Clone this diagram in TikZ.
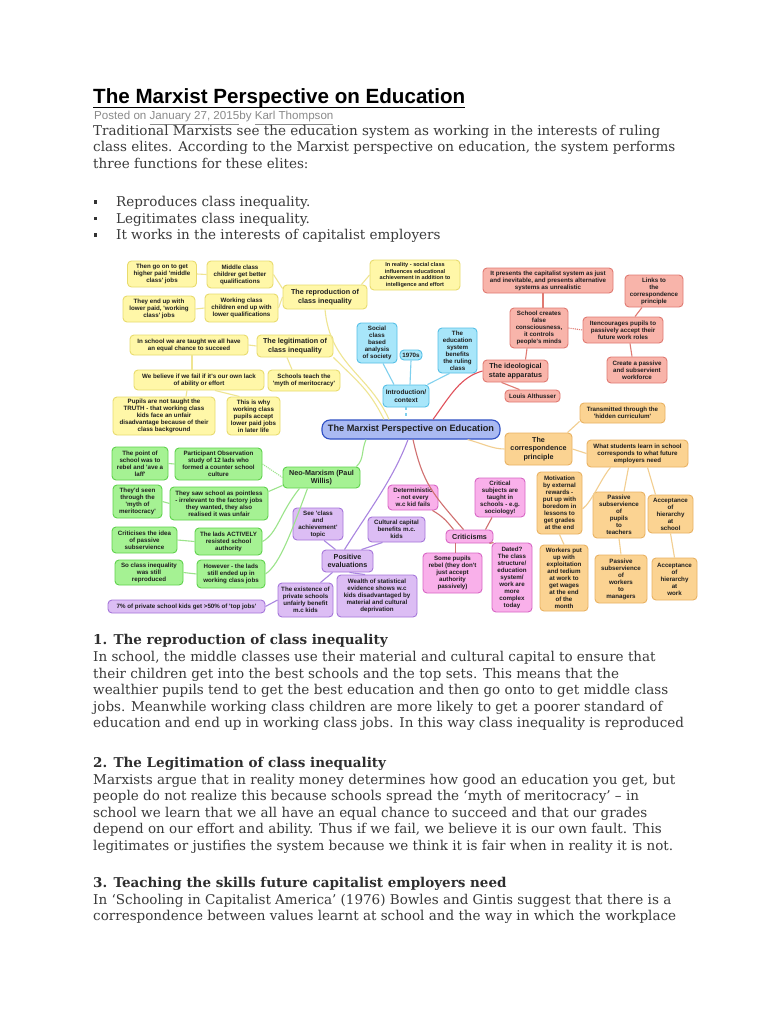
\documentclass[tikz,border=0pt]{standalone}
\usepackage{fontspec}
\setmainfont{DejaVu Serif}
\newfontfamily\arialf{Liberation Sans}
\definecolor{yF}{HTML}{FFF7A8}\definecolor{yD}{HTML}{E8DB6E}\definecolor{yL}{HTML}{EFE592}
\definecolor{cF}{HTML}{A8E6FA}\definecolor{cD}{HTML}{55BFE6}\definecolor{cL}{HTML}{7FD0EE}
\definecolor{bF}{HTML}{AABAF2}\definecolor{bD}{HTML}{2E4FC4}
\definecolor{rF}{HTML}{F8B4AA}\definecolor{rD}{HTML}{E07A72}\definecolor{rL}{HTML}{E0505A}
\definecolor{oF}{HTML}{FBD392}\definecolor{oD}{HTML}{E9B262}\definecolor{oL}{HTML}{F2CE90}
\definecolor{gF}{HTML}{A5F293}\definecolor{gD}{HTML}{5FD24C}\definecolor{gL}{HTML}{9BE48A}
\definecolor{pF}{HTML}{DCBDF4}\definecolor{pD}{HTML}{A576DA}\definecolor{pL}{HTML}{A985E0}
\definecolor{kF}{HTML}{F9B0EA}\definecolor{kD}{HTML}{D766C4}\definecolor{kL}{HTML}{D07070}
\definecolor{tx}{HTML}{3A3A3A}\definecolor{postc}{HTML}{8A8A8A}
\tikzset{
 mm/.style={rounded corners=4, line width=0.9, align=center, inner sep=0, text=black!88,
   font=\arialf\bfseries\fontsize{6.2}{7}\selectfont},
 big/.style={font=\arialf\bfseries\fontsize{7.2}{8.4}\selectfont},
 mid/.style={font=\arialf\bfseries\fontsize{6.6}{7.8}\selectfont},
 sml/.style={font=\arialf\bfseries\fontsize{5.6}{6.6}\selectfont},
 yel/.style={mm, fill=yF, draw=yD}, cy/.style={mm, fill=cF, draw=cD},
 rd/.style={mm, fill=rF, draw=rD}, org/.style={mm, fill=oF, draw=oD},
 grn/.style={mm, fill=gF, draw=gD}, pur/.style={mm, fill=pF, draw=pD},
 pnk/.style={mm, fill=kF, draw=kD},
 wh/.style 2 args={minimum width=#1, minimum height=#2},
 cn/.style={line width=1.1, draw=#1},
 bt/.style={anchor=base west, inner sep=0, text=tx, font=\fontsize{13.5}{16}\selectfont},
 hd/.style={anchor=base west, inner sep=0, text=tx!80!black, font=\bfseries\fontsize{13.5}{16}\selectfont},
 bul/.style={fill=black!80, minimum size=3.2, inner sep=0},
}
\begin{document}
\begin{tikzpicture}[x=1pt,y=-1pt]
\useasboundingbox[fill=white] (0,0) rectangle (768,1024);

% ---------- header text ----------
\node[anchor=base west, inner sep=0, font=\arialf\bfseries\fontsize{20.6}{24}\selectfont] (title) at (93,104) {The Marxist Perspective on Education};
\draw[line width=1.3] ([yshift=-3.6]title.base west) -- ([yshift=-3.6]title.base east);
\node[anchor=base west, inner sep=0, text=postc, font=\arialf\fontsize{11.6}{13}\selectfont] (posted) at (94,120) {Posted on \underline{January 27, 2015}by \underline{Karl Thompson}};
\node[bt] (p1) at (93,135.5) {Traditional Marxists see the education system as working in the interests of ruling};
\node[bt] (p2) at (93,152) {class elites. According to the Marxist perspective on education, the system performs};
\node[bt] (p3) at (93,168.5) {three functions for these elites:};
\node[bul] (b1) at (95.5,202) {};
\node[bul] (b2) at (95.5,218.5) {};
\node[bul] (b3) at (95.5,235) {};
\node[bt] (l1) at (116,206.5) {Reproduces class inequality.};
\node[bt] (l2) at (116,223) {Legitimates class inequality.};
\node[bt] (l3) at (116,239.5) {It works in the interests of capitalist employers};

% ---------- mind map: central ----------
\node[mm, fill=bF, draw=bD, line width=1.1, rounded corners=8, wh={178}{19}, font=\arialf\bfseries\fontsize{9.2}{11}\selectfont] (cen) at (411,429.5) {The Marxist Perspective on Education};

% yellow
\node[yel, wh={69}{26}] (y1) at (162,274) {Then go on to get\\higher paid 'middle\\class' jobs};
\node[yel, wh={66}{27}] (y2) at (240,274.5) {Middle class\\childrer get better\\qualifications};
\node[yel, wh={72}{26}] (y3) at (159,309) {They end up with\\lower paid, 'working\\class' jobs};
\node[yel, wh={73}{28}] (y4) at (241.5,308) {Working class\\children end up with\\lower qualifications};
\node[yel, big, wh={84}{24}] (yR) at (325,297) {The reproduction of\\class inequality};
\node[yel, sml, wh={90}{30}] (yReal) at (415,275) {In reality - social class\\influences educational\\achievement in addition to\\intelligence and effort};
\node[yel, wh={118}{20}] (y5) at (189,345) {In school we are taught we all have\\an equal chance to succeed};
\node[yel, big, wh={76}{22}] (yL) at (295,346) {The legitimation of\\class inequality};
\node[yel, wh={130}{20}] (y6) at (199,380) {We believe if we fail if it's our own lack\\of ability or effort};
\node[yel, wh={72}{21}] (y7) at (304,380.5) {Schools teach the\\'myth of meritocracy'};
\node[yel, wh={102}{38}] (y8) at (164,416) {Pupils are not taught the\\TRUTH - that working class\\kids face an unfair\\disadvantage because of their\\class background};
\node[yel, wh={53}{38}] (y9) at (253.5,416) {This is why\\working class\\pupils accept\\lower paid jobs\\in later life};

% cyan
\node[cy, wh={40}{40}] (c1) at (377,343) {Social\\class\\based\\analysis\\of society};
\node[cy, wh={22}{10}] (c2) at (411,355) {1970s};
\node[cy, wh={39}{45}] (c3) at (457.5,350.5) {The\\education\\system\\benefits\\the ruling\\class};
\node[cy, mid, wh={46}{22}] (cI) at (406,396) {Introduction/\\context};

% red
\node[rd, wh={130}{25}] (r1) at (548,280.5) {It presents the capitalist system as just\\and inevitable, and presents alternative\\systems as unrealistic};
\node[rd, wh={58}{32}] (r2) at (654,291) {Links to\\the\\correspondence\\principle};
\node[rd, wh={58}{40}] (r3) at (539,328) {School creates\\false\\consciousness,\\it controls\\people's minds};
\node[rd, wh={80}{26}] (r4) at (623,330) {Itencourages pupils to\\passively accept their\\future work roles};
\node[rd, big, wh={65}{22}] (rI) at (515.5,371) {The ideological\\state apparatus};
\node[rd, wh={60}{26}] (r5) at (637,370) {Create a passive\\and subservient\\workforce};
\node[rd, wh={55}{12}] (r6) at (532.5,396) {Louis Althusser};

% orange
\node[org, wh={85}{20}] (o1) at (622.5,413) {Transmitted through the\\'hidden curriculum'};
\node[org, big, wh={67}{32}] (oC) at (538.5,449) {The\\correspondence\\principle};
\node[org, wh={101}{27}] (o2) at (637.5,453.5) {What students learn in school\\corresponds to what future\\employers need};
\node[org, wh={45}{62}] (o3) at (559.5,503) {Motivation\\by external\\rewards -\\put up with\\boredom in\\lessons to\\get grades\\at the end};
\node[org, wh={52}{46}] (o4) at (619,515) {Passive\\subservience\\of\\pupils\\to\\teachers};
\node[org, wh={45}{38}] (o5) at (670.5,514) {Acceptance\\of\\hierarchy\\at\\school};
\node[org, wh={48}{66}] (o6) at (564,578) {Workers put\\up with\\exploitation\\and tedium\\at work to\\get wages\\at the end\\of the\\month};
\node[org, wh={52}{48}] (o7) at (621,579) {Passive\\subservience\\of\\workers\\to\\managers};
\node[org, wh={45}{42}] (o8) at (674.5,579) {Acceptance\\of\\hierarchy\\at\\work};

% green
\node[grn, big, wh={77}{21}] (gN) at (321.5,477.5) {Neo-Marxism (Paul\\Willis)};
\node[grn, wh={56}{33}] (g1) at (140,463.5) {The point of\\school was to\\rebel and 'ave a\\laff'};
\node[grn, wh={87}{32}] (g2) at (218.5,464) {Participant Observation\\study of 12 lads who\\formed a counter school\\culture};
\node[grn, wh={49}{33}] (g3) at (137.5,501.5) {They'd seen\\through the\\'myth of\\meritocracy'};
\node[grn, wh={98}{33}] (g4) at (219,503.5) {They saw school as pointless\\- irrelevant to the factory jobs\\they wanted, they also\\realised it was unfair};
\node[grn, wh={65}{26}] (g5) at (144.5,540) {Criticises the idea\\of passive\\subservience};
\node[grn, wh={67}{27}] (g6) at (228.5,541.5) {The lads ACTIVELY\\resisted school\\authority};
\node[grn, wh={68}{25}] (g7) at (149,572.5) {So class inequality\\was still\\reproduced};
\node[grn, wh={68}{28}] (g8) at (231,574) {However - the lads\\still ended up in\\working class jobs};

% purple
\node[pur, wh={157}{13}] (p7) at (186.5,606.5) {7\% of private school kids get >50\% of 'top jobs'};
\node[pur, wh={50}{32}] (pS) at (318,524) {See 'class\\and\\achievement'\\topic};
\node[pur, wh={57}{25}] (pC) at (396.5,529.5) {Cultural capital\\benefits m.c.\\kids};
\node[pur, big, wh={51}{22}] (pP) at (347.5,561) {Positive\\evaluations};
\node[pur, wh={55}{34}] (pE) at (305.5,600) {The existence of\\private schools\\unfairly benefit\\m.c kids};
\node[pur, wh={80}{42}] (pW) at (377,596) {Wealth of statistical\\evidence shows w.c\\kids disadvantaged by\\material and cultural\\deprivation};

% pink
\node[pnk, wh={50}{25}] (k1) at (413,497.5) {Deterministic\\- not every\\w.c kid fails};
\node[pnk, wh={50}{39}] (k2) at (500,497.5) {Critical\\subjects are\\taught in\\schools - e.g.\\sociology!};
\node[pnk, big, wh={47}{13}] (kC) at (469.5,536.5) {Criticisms};
\node[pnk, wh={59}{40}] (k3) at (452.5,573) {Some pupils\\rebel (they don't\\just accept\\authority\\passively)};
\node[pnk, wh={40}{69}] (k4) at (512,577.5) {Dated?\\The class\\structure/\\education\\system/\\work are\\more\\complex\\today};

% ---------- connectors ----------
% yellow
\draw[cn=yL] (yR.south) .. controls +(5,55) and +(-20,-45) .. ([xshift=-22]cen.north);
\draw[cn=yL] (yL.south east) .. controls +(25,25) and +(-15,-30) .. ([xshift=-27]cen.north);
\draw[cn=yL] (y2.east) -- ([yshift=-4]yR.north west);
\draw[cn=yL] (y4.east) -- (yR.west);
\draw[cn=yL] (y1.east) -- (y2.west);
\draw[cn=yL] (y3.east) -- (y4.west);
\draw[cn=yL] ([xshift=-6]yR.north east) -- (yReal.west);
\draw[cn=yL] (y5.east) -- (yL.west);
\draw[cn=yL] ([xshift=-8]yL.south) -- ([xshift=-12]y7.north);
\draw[cn=yL] ([xshift=3]y5.south) -- ([xshift=-7]y6.north);
\draw[cn=yL] ([xshift=-12]y6.south) -- ([xshift=22]y8.north);
\draw[cn=yL] ([xshift=16]y6.south) -- ([xshift=-14]y9.north);
% cyan
\draw[cn=cL, dashed] (cI.south) -- (cI.south |- cen.north);
\draw[cn=cL] ([xshift=-12]cI.north) -- ([xshift=6]c1.south);
\draw[cn=cL] ([xshift=4]cI.north) -- (c2.south);
\draw[cn=cL] ([xshift=-2]cI.north east) -- ([xshift=-8]c3.south);
% red
\draw[cn=rL] ([xshift=22]cen.north) .. controls +(18,-25) and +(-22,6) .. (rI.west);
\draw[cn=rD] ([xshift=10]rI.north) -- ([xshift=-12]r3.south);
\draw[cn=rD] ([xshift=-14]rI.south) -- ([xshift=-13]r6.north);
\draw[cn=rD] ([xshift=4]r3.north) -- ([xshift=-5]r1.south);
\draw[cn=rD, densely dotted] (r3.east) -- (r4.west);
\draw[cn=rD] ([xshift=12]r4.north) -- ([xshift=-12]r2.south);
\draw[cn=rD] ([xshift=7]r4.south) -- ([xshift=-5]r5.north);
% orange
\draw[cn=oL] ([xshift=-33]cen.south east) .. controls +(15,4) and +(-12,0) .. (oC.west);
\draw[cn=oL] ([xshift=-5]oC.north east) -- ([yshift=2]o1.south west);
\draw[cn=oL] (oC.east) -- (o2.west);
\draw[cn=oL] ([xshift=-27]o2.south) .. controls +(-10,12) and +(10,-8) .. ([yshift=-6]o3.east);
\draw[cn=oL] ([xshift=-9]o2.south) -- ([xshift=5]o4.north);
\draw[cn=oL] ([xshift=10]o2.south) -- ([xshift=-15]o5.north);
\draw[cn=oL] (o3.south) -- (o6.north);
\draw[cn=oL] (o4.south) -- (o7.north);
\draw[cn=oL] (o5.south) -- (o8.north);
% green
\draw[cn=gL] ([xshift=-45]cen.south) .. controls +(-5,12) and +(8,-8) .. ([xshift=-4]gN.north east);
\draw[cn=gL, densely dotted] (gN.west) -- (g2.east);
\draw[cn=gL] ([yshift=3]gN.south west) -- ([yshift=-5]g4.north east);
\draw[cn=gL] ([xshift=-22]gN.south) .. controls +(-20,25) and +(15,-8) .. (g6.east);
\draw[cn=gL] ([xshift=-14]gN.south) .. controls +(-15,40) and +(15,-10) .. (g8.east);
\draw[cn=gL] (g2.west) -- (g1.east);
\draw[cn=gL] (g4.west) -- (g3.east);
\draw[cn=gL] (g6.west) -- (g5.east);
\draw[cn=gL] (g8.west) -- (g7.east);
% purple
\draw[cn=pL] ([xshift=-3]cen.south) .. controls +(-15,40) and +(25,-40) .. ([xshift=-3]pP.north);
\draw[cn=pL] ([xshift=-12]pP.north) -- ([xshift=6]pS.south);
\draw[cn=pL] ([xshift=14]pP.north) -- ([xshift=-14]pC.south);
\draw[cn=pL] ([xshift=-15]pP.south) -- ([xshift=15]pE.north);
\draw[cn=pL] ([xshift=2]pP.south) -- ([xshift=-12]pW.north);
\draw[cn=pL] (pE.west) -- (p7.east);
% pink
\draw[cn=kL] ([xshift=2]cen.south) .. controls +(10,45) and +(-30,-35) .. ([xshift=-6]kC.north);
\draw[cn=kL] ([xshift=8]kC.north west) .. controls +(-8,-10) and +(10,6) .. ([xshift=-6]k1.south east);
\draw[cn=kL] ([xshift=-8]kC.north east) -- ([xshift=-8]k2.south);
\draw[cn=kL] ([xshift=-14]kC.south) -- ([xshift=3]k3.north);
\draw[cn=kL] ([xshift=-4]kC.south east) -- ([xshift=2]k4.north west);

% ---------- body text ----------
\node[hd] (h1) at (93,644.5) {1. The reproduction of class inequality};
\node[bt] (s11) at (93,661.5) {In school, the middle classes use their material and cultural capital to ensure that};
\node[bt] (s12) at (93,678) {their children get into the best schools and the top sets. This means that the};
\node[bt] (s13) at (93,694.5) {wealthier pupils tend to get the best education and then go onto to get middle class};
\node[bt] (s14) at (93,711) {jobs. Meanwhile working class children are more likely to get a poorer standard of};
\node[bt] (s15) at (93,727.5) {education and end up in working class jobs. In this way class inequality is reproduced};
\node[hd] (h2) at (93,767) {2. The Legitimation of class inequality};
\node[bt] (s21) at (93,784) {Marxists argue that in reality money determines how good an education you get, but};
\node[bt] (s22) at (93,800.5) {people do not realize this because schools spread the ‘myth of meritocracy’ – in};
\node[bt] (s23) at (93,817) {school we learn that we all have an equal chance to succeed and that our grades};
\node[bt] (s24) at (93,833.5) {depend on our effort and ability. Thus if we fail, we believe it is our own fault. This};
\node[bt] (s25) at (93,850) {legitimates or justifies the system because we think it is fair when in reality it is not.};
\node[hd] (h3) at (93,887) {3. Teaching the skills future capitalist employers need};
\node[bt] (s31) at (93,904) {In ‘Schooling in Capitalist America’ (1976) Bowles and Gintis suggest that there is a};
\node[bt] (s32) at (93,920.5) {correspondence between values learnt at school and the way in which the workplace};
\end{tikzpicture}
\end{document}
